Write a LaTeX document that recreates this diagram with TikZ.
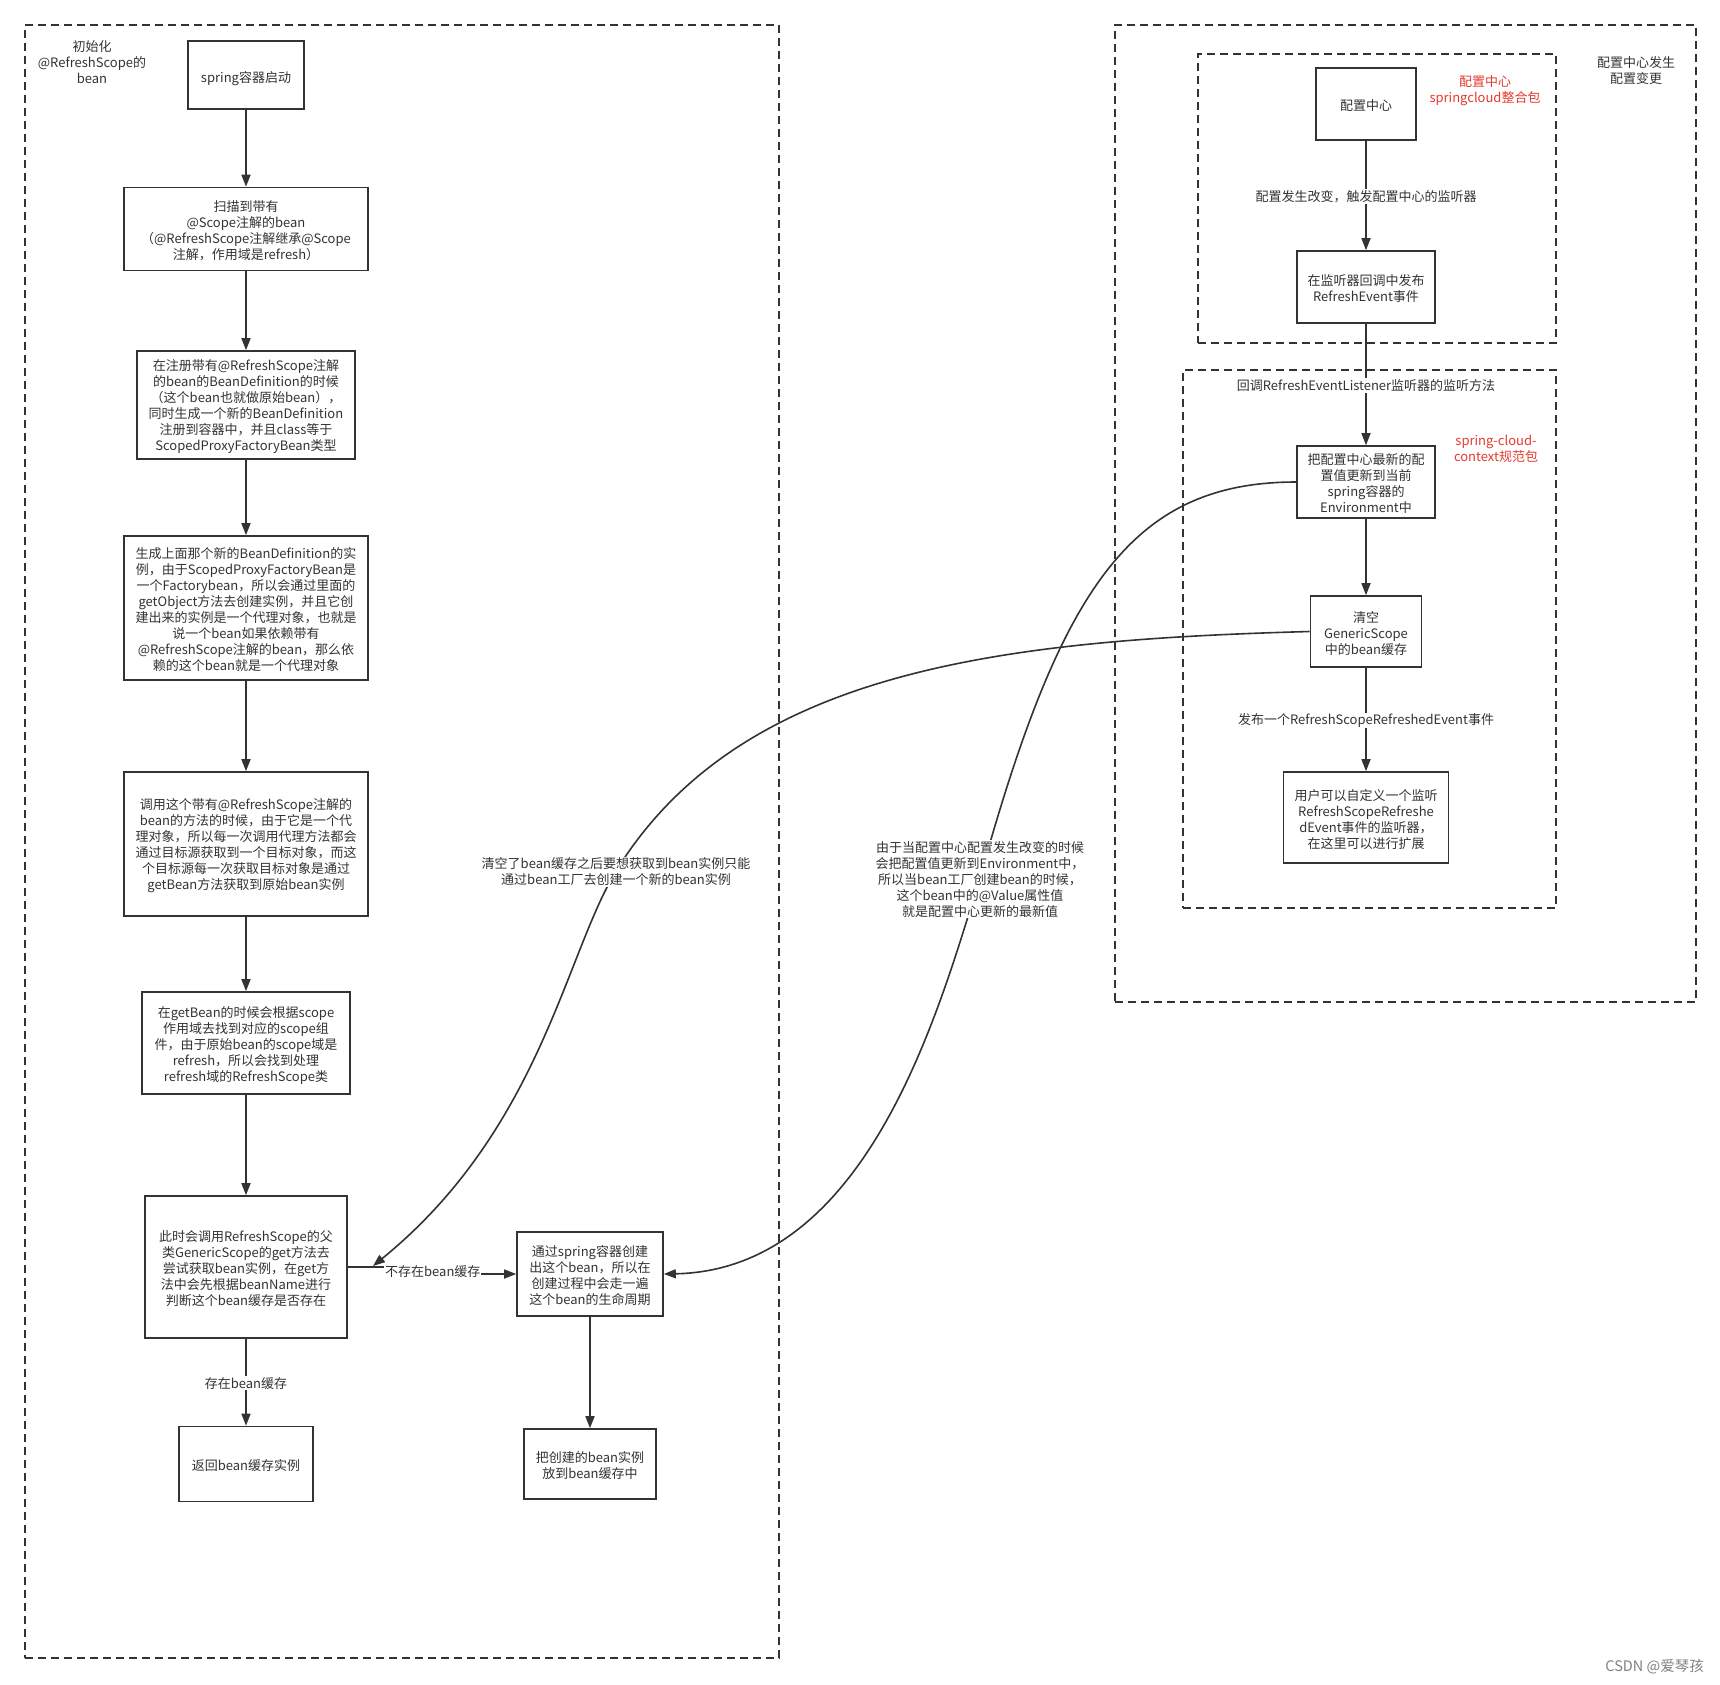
\documentclass[tikz,border=0pt]{standalone}
\usepackage{fontspec}
\setmainfont{Noto Sans CJK SC}
\usetikzlibrary{shapes,arrows,arrows.meta}
\definecolor{inkgray}{HTML}{333333}
\definecolor{notered}{HTML}{E5392F}
\newcommand{\topgap}{\rule{0pt}{15pt}}
\tikzstyle{block} = [rectangle, draw=inkgray, line width=1.6pt, text=inkgray, align=center,
    font=\fontsize{13}{16}\selectfont, inner sep=0pt, fill=white]
\tikzstyle{group} = [rectangle, draw=inkgray, line width=1.5pt, dash pattern=on 8pt off 5pt, inner sep=0pt]
\tikzstyle{note} = [text=inkgray, align=center, font=\fontsize{13}{16}\selectfont, inner sep=0pt]
\tikzstyle{rednote} = [note, text=notered]
\tikzstyle{tag} = [note, fill=white, inner sep=1pt, yshift=-1pt]
\tikzstyle{line} = [draw=inkgray, line width=1.6pt, -{Triangle[length=12pt,width=9pt]}]
\begin{document}
\begin{tikzpicture}[x=1pt, y=-1pt, node distance = 154pt]
    \useasboundingbox (0,0) rectangle (1720,1684);
    % Place groups
    \node [group, minimum width=754pt, minimum height=1633pt] (initgroup) at (402,841.5) {};
    \node [group, minimum width=581pt, minimum height=977pt] (changegroup) at (1405.5,513.5) {};
    \node [group, minimum width=358pt, minimum height=289pt] (cloudgroup) at (1377,198.5) {};
    \node [group, minimum width=373pt, minimum height=538pt] (contextgroup) at (1369.5,639) {};
    % Place nodes
    \node [block, minimum width=116pt, minimum height=68pt] (start) at (246,75) {\rule{0pt}{19pt}spring容器启动};
    \node [block, below of=start, minimum width=244pt, minimum height=83pt] (scan) {\topgap 扫描到带有\\@Scope注解的bean\\（@RefreshScope注解继承@Scope\\注解，作用域是refresh）};
    \node [block, below of=scan, node distance=176pt, minimum width=218pt, minimum height=108pt] (register) {\topgap 在注册带有@RefreshScope注解\\的bean的BeanDefinition的时候\\（这个bean也就做原始bean），\\同时生成一个新的BeanDefinition\\注册到容器中，并且class等于\\ScopedProxyFactoryBean类型};
    \node [block, below of=register, node distance=203pt, minimum width=244pt, minimum height=144pt] (instance) {\topgap 生成上面那个新的BeanDefinition的实\\例，由于ScopedProxyFactoryBean是\\一个Factorybean，所以会通过里面的\\getObject方法去创建实例，并且它创\\建出来的实例是一个代理对象，也就是\\说一个bean如果依赖带有\\@RefreshScope注解的bean，那么依\\赖的这个bean就是一个代理对象};
    \node [block, below of=instance, node distance=236pt, minimum width=244pt, minimum height=144pt] (invoke) {\topgap 调用这个带有@RefreshScope注解的\\bean的方法的时候，由于它是一个代\\理对象，所以每一次调用代理方法都会\\通过目标源获取到一个目标对象，而这\\个目标源每一次获取目标对象是通过\\getBean方法获取到原始bean实例};
    \node [block, below of=invoke, node distance=199pt, minimum width=208pt, minimum height=102pt] (getbean) {\topgap 在getBean的时候会根据scope\\作用域去找到对应的scope组\\件，由于原始bean的scope域是\\refresh，所以会找到处理\\refresh域的RefreshScope类};
    \node [block, below of=getbean, node distance=224pt, minimum width=202pt, minimum height=142pt] (refresh) {\topgap 此时会调用RefreshScope的父\\类GenericScope的get方法去\\尝试获取bean实例，在get方\\法中会先根据beanName进行\\判断这个bean缓存是否存在};
    \node [block, below of=refresh, node distance=197pt, minimum width=134pt, minimum height=75pt] (cached) {\topgap 返回bean缓存实例};
    \node [block, minimum width=146pt, minimum height=84pt] (create) at (590,1274) {\topgap 通过spring容器创建\\出这个bean，所以在\\创建过程中会走一遍\\这个bean的生命周期};
    \node [block, below of=create, node distance=190pt, minimum width=132pt, minimum height=70pt] (store) {\topgap 把创建的bean实例\\放到bean缓存中};
    \node [block, minimum width=100pt, minimum height=72pt] (center) at (1366,104) {\topgap 配置中心};
    \node [block, below of=center, node distance=183pt, minimum width=138pt, minimum height=72pt] (publish) {\topgap 在监听器回调中发布\\RefreshEvent事件};
    \node [block, below of=publish, node distance=195pt, minimum width=138pt, minimum height=72pt] (update) {\topgap 把配置中心最新的配\\置值更新到当前\\spring容器的\\Environment中};
    \node [block, below of=update, node distance=149.5pt, minimum width=111pt, minimum height=71pt] (clear) {\topgap 清空\\GenericScope\\中的bean缓存};
    \node [block, below of=clear, node distance=186pt, minimum width=165pt, minimum height=91pt] (custom) {\topgap 用户可以自定义一个监听\\RefreshScopeRefreshe\\dEvent事件的监听器，\\在这里可以进行扩展};
    % Place notes
    \node [note] (inittitle) at (92,62) {初始化\\@RefreshScope的\\bean};
    \node [note] (changetitle) at (1636,71) {配置中心发生\\配置变更};
    \node [rednote] (cloudtitle) at (1485,91) {配置中心\\springcloud整合包};
    \node [rednote] (contexttitle) at (1496,449) {spring-cloud-\\context规范包};
    \node [note, text=gray, anchor=east, font=\fontsize{14.5}{16}\selectfont] (mark) at (1704,1667) {CSDN @爱琴孩};
    % Draw edges
    \path [line] (start) -- (scan);
    \path [line] (scan) -- (register);
    \path [line] (register) -- (instance);
    \path [line] (instance) -- (invoke);
    \path [line] (invoke) -- (getbean);
    \path [line] (getbean) -- (refresh);
    \path [line] (refresh) -- node [tag] {存在bean缓存} (cached);
    \path [line] (refresh.east) -- ++(85,0) |- node [tag, pos=0.5, yshift=3pt] {不存在bean缓存} (create.west);
    \path [line] (create) -- (store);
    \path [line] (center) -- node [tag] {配置发生改变，触发配置中心的监听器} (publish);
    \path [line] (publish) -- node [tag] {回调RefreshEventListener监听器的监听方法} (update);
    \path [line] (update) -- (clear);
    \path [line] (clear) -- node [tag] {发布一个RefreshScopeRefreshedEvent事件} (custom);
    \path [line] (clear.west) .. controls (1000,640) and (740,670) .. (616,871)
        node [tag] {清空了bean缓存之后要想获取到bean实例只能\\通过bean工厂去创建一个新的bean实例}
        .. controls (565,955) and (540,1130) .. (373,1266);
    \path [line] (update.west) .. controls (1130,482) and (1060,590) .. (980,878)
        node [tag] {由于当配置中心配置发生改变的时候\\会把配置值更新到Environment中，\\所以当bean工厂创建bean的时候，\\这个bean中的@Value属性值\\就是配置中心更新的最新值}
        .. controls (940,1005) and (870,1270) .. (create.east);
\end{tikzpicture}
\end{document}
